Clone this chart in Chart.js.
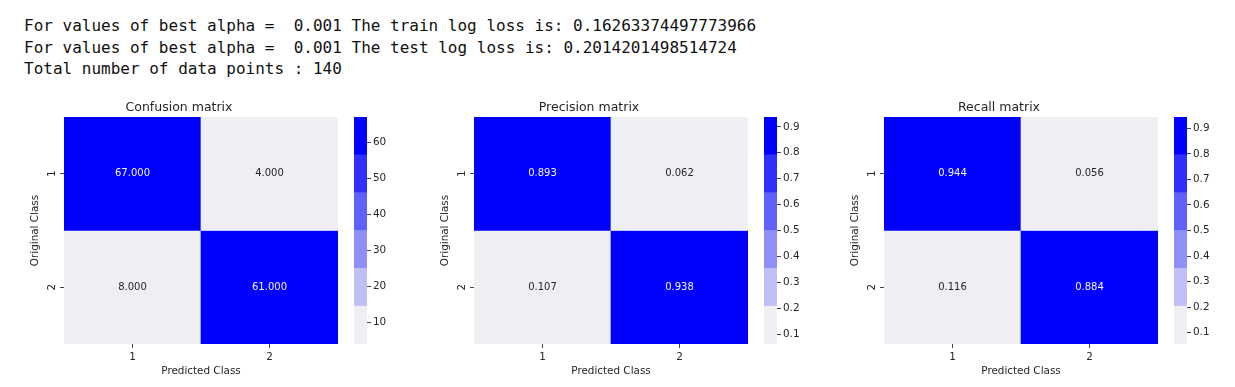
<!DOCTYPE html>
<html>
<head>
<meta charset="utf-8">
<script src="https://cdn.jsdelivr.net/npm/chart.js@4.4.1/dist/chart.umd.min.js"></script>
<style>
    body { margin: 0; background: #fff; }
    #page { position: relative; width: 1235px; height: 387px; overflow: hidden; }
    #log { position: absolute; left: 24px; top: 15px; margin: 0; font: 16px/21.5px "DejaVu Sans Mono", monospace; color: #111; }
    canvas { position: absolute; }
</style>
</head>
<body>
<div id="page">
<pre id="log">For values of best alpha =  0.001 The train log loss is: 0.16263374497773966
For values of best alpha =  0.001 The test log loss is: 0.2014201498514724
Total number of data points : 140</pre>
</div>
<script>
// values
const classLabels = ['1', '2'];
const titles = ['Confusion matrix', 'Precision matrix', 'Recall matrix'];
const confusion = [[67, 4], [8, 61]];
const precision = [[0.893, 0.062], [0.107, 0.938]];
const recall = [[0.944, 0.056], [0.116, 0.884]];
const confusionTicks = [10, 20, 30, 40, 50, 60];
const ratioTicks = [0.1, 0.2, 0.3, 0.4, 0.5, 0.6, 0.7, 0.8, 0.9];

// seaborn light_palette('blue'), 6 steps
const grayRGB = [239, 239, 243];
const blueRGB = [0, 0, 255];
const palette = [];
for (let i = 0; i < 6; i++) {
    const t = i / 5;
    const c = grayRGB.map((g, k) => Math.round(g + (blueRGB[k] - g) * t));
    palette.push(`rgb(${c[0]},${c[1]},${c[2]})`);
}

Chart.defaults.font.family = '"DejaVu Sans", sans-serif';
Chart.defaults.font.size = 10;
Chart.defaults.color = '#262626';

function bandIndex(v, vmin, vmax) {
    const i = Math.floor((v - vmin) / (vmax - vmin) * palette.length);
    return Math.max(0, Math.min(palette.length - 1, i));
}

const annotate = {
    id: 'annotate',
    afterDatasetsDraw(chart) {
        const { matrix, vmin, vmax } = chart.options.plugins.annotate;
        const ctx = chart.ctx;
        ctx.save();
        ctx.font = '10px "DejaVu Sans", sans-serif';
        ctx.textAlign = 'center';
        ctx.textBaseline = 'middle';
        chart.data.datasets.forEach((ds, r) => {
            chart.getDatasetMeta(r).data.forEach((bar, c) => {
                const v = matrix[r][c];
                ctx.fillStyle = bandIndex(v, vmin, vmax) >= 3 ? '#f4f4ff' : '#262626';
                ctx.fillText(v.toFixed(3), bar.x, (bar.y + bar.base) / 2);
            });
        });
        ctx.restore();
    }
};

function addCanvas(left, top, w, h) {
    const c = document.createElement('canvas');
    c.width = w;
    c.height = h;
    c.style.left = left + 'px';
    c.style.top = top + 'px';
    document.getElementById('page').appendChild(c);
    return c;
}

function drawHeatmap(left, title, matrix) {
    const flat = matrix.flat();
    const vmin = Math.min(...flat), vmax = Math.max(...flat);
    const canvas = addCanvas(left, 92, 330, 290);
    new Chart(canvas, {
        type: 'bar',
        data: {
            labels: classLabels,
            datasets: matrix.map((row, r) => ({
                data: row.map(() => [r, r + 1]),
                backgroundColor: row.map(v => palette[bandIndex(v, vmin, vmax)]),
                borderWidth: 0,
                grouped: false,
                barPercentage: 1,
                categoryPercentage: 1
            }))
        },
        options: {
            responsive: false,
            animation: false,
            layout: { padding: { right: 12 } },
            plugins: {
                legend: { display: false },
                tooltip: { enabled: false },
                title: { display: true, text: title, font: { size: 12.5, weight: 'normal' }, color: '#262626', padding: { top: 8.5, bottom: 1.5 } },
                annotate: { matrix, vmin, vmax }
            },
            scales: {
                x: {
                    type: 'category',
                    offset: true,
                    border: { display: false },
                    grid: { offset: false, drawOnChartArea: false, tickLength: 4, color: '#444' },
                    ticks: { padding: 3, font: { size: 10.4 } },
                    title: { display: true, text: 'Predicted Class', font: { size: 10.4 }, padding: { bottom: 4 } },
                    afterFit: s => { s.height = 38; }
                },
                y: {
                    type: 'linear',
                    min: 0,
                    max: 2,
                    reverse: true,
                    border: { display: false },
                    grid: { drawOnChartArea: false, tickLength: 4, color: '#444' },
                    ticks: { minRotation: 90, maxRotation: 90, crossAlign: 'center', padding: 4, font: { size: 10.4 },
                             callback: (v, i) => classLabels[i] },
                    afterBuildTicks: s => { s.ticks = classLabels.map((l, i) => ({ value: i + 0.5 })); },
                    title: { display: true, text: 'Original Class', font: { size: 10.4 }, padding: { top: 9.5 } },
                    afterFit: s => { s.width = 44; }
                }
            }
        },
        plugins: [annotate]
    });
    return { vmin, vmax };
}

function drawColorbar(left, vmin, vmax, tickValues, fmt) {
    const canvas = addCanvas(left, 107, 50, 247);
    const step = (vmax - vmin) / palette.length;
    new Chart(canvas, {
        type: 'bar',
        data: {
            labels: [''],
            datasets: palette.map((col, i) => ({
                data: [[vmin + i * step, vmin + (i + 1) * step]],
                backgroundColor: col,
                borderWidth: 0,
                grouped: false,
                barPercentage: 1,
                categoryPercentage: 1
            }))
        },
        options: {
            responsive: false,
            animation: false,
            layout: { padding: { left: 4, top: 10, bottom: 10, right: 0 } },
            plugins: { legend: { display: false }, tooltip: { enabled: false } },
            scales: {
                x: { display: false },
                y: {
                    position: 'right',
                    min: vmin,
                    max: vmax,
                    border: { display: false },
                    grid: { drawOnChartArea: false, tickLength: 4, color: '#444' },
                    ticks: { padding: 2, font: { size: 10.4 }, callback: v => fmt(v) },
                    afterBuildTicks: s => { s.ticks = tickValues.map(v => ({ value: v })); },
                    afterFit: s => { s.width = 33; }
                }
            }
        }
    });
}

const panels = [
    { matrix: confusion, ticks: confusionTicks, fmt: v => String(v) },
    { matrix: precision, ticks: ratioTicks, fmt: v => v.toFixed(1) },
    { matrix: recall, ticks: ratioTicks, fmt: v => v.toFixed(1) }
];

panels.forEach((p, i) => {
    const dx = i * 410;
    const range = drawHeatmap(20 + dx, titles[i], p.matrix);
    drawColorbar(350 + dx, range.vmin, range.vmax, p.ticks, p.fmt);
});
</script>
</body>
</html>
